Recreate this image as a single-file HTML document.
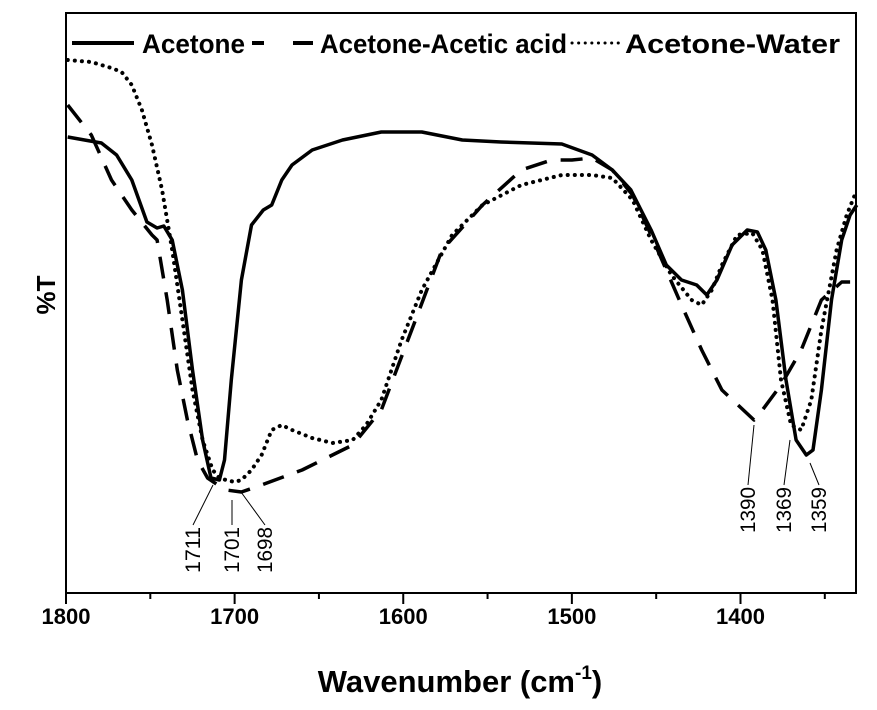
<!DOCTYPE html>
<html><head><meta charset="utf-8"><style>
body{margin:0;background:#fff}
svg text{font-family:"Liberation Sans",Arial,sans-serif}
</style></head><body>
<svg id="chart" width="877" height="705" viewBox="0 0 877 705" xmlns="http://www.w3.org/2000/svg"></svg>
<script>
const acetoneW=[1799,1779,1770,1761,1752,1746,1742,1737,1731,1725,1719,1714,1709,1706,1702,1696,1690,1683,1678,1672,1666,1654,1636,1613,1589,1565,1542,1506,1488,1476,1465,1453,1444,1435,1426,1420,1414,1405,1396,1390,1385,1379,1373,1367,1361,1357,1352,1346,1340,1335,1331];
const acetoneT=[456,450,438,413,371,365,367,353,303,223,153,115,113,133,213,313,368,383,388,413,428,443,453,461,461,453,451,449,438,423,403,363,328,313,308,298,313,348,363,361,343,293,213,153,138,143,203,293,353,378,388];
const aceticW=[1799,1785,1773,1761,1749,1746,1740,1734,1728,1722,1716,1710,1705,1696,1684,1660,1630,1613,1595,1577,1553,1530,1512,1500,1488,1476,1464,1453,1435,1423,1411,1392,1387,1376,1364,1352,1340,1335];
const aceticT=[488,458,413,383,358,353,293,223,173,133,115,108,103,101,108,123,148,183,263,343,388,423,433,433,435,423,398,358,288,243,203,173,183,208,243,293,311,311];
const waterW=[1799,1785,1773,1767,1761,1755,1749,1743,1737,1731,1725,1719,1713,1709,1705,1700,1696,1690,1684,1678,1672,1666,1654,1642,1630,1622,1613,1601,1589,1571,1553,1530,1506,1488,1476,1464,1453,1441,1429,1423,1417,1411,1402,1393,1387,1381,1376,1370,1364,1358,1352,1343,1337,1331];
const waterT=[533,531,525,521,508,483,448,403,343,273,203,153,123,115,113,111,113,123,138,163,168,163,155,150,153,168,193,253,303,358,388,408,418,418,415,393,353,318,293,288,303,328,358,360,343,293,213,168,163,193,263,343,378,403];
const xTicks=[1800,1700,1600,1500,1400];
const xMinor=[1750,1650,1550,1450,1350];
const peakLabels=["1711","1701","1698","1390","1369","1359"];
const peakW=[1711,1701,1698,1390,1369,1359];

const svg=document.getElementById('chart');
const NS='http://www.w3.org/2000/svg';
const L=66,R=856,T=13,B=593;
const x=w=>L+(1800-w)*(R-L)/(1800-1331.5);
const y=v=>B-v;
function mk(tag,attrs,parent){const e=document.createElementNS(NS,tag);for(const k in attrs)e.setAttribute(k,attrs[k]);(parent||svg).appendChild(e);return e;}

const fr=mk('rect',{x:L,y:T,width:R-L,height:B-T,fill:'none',stroke:'#000','stroke-width':2});



xTicks.forEach(t=>{
  const l=mk('line',{x1:x(t),x2:x(t),y1:B,y2:B+11,stroke:'#000','stroke-width':2});
  
  
  const tx=mk('text',{x:x(t),y:B+31,'text-anchor':'middle','font-size':22,'font-weight':'bold'});
  tx.textContent=t;
  
  
});
xMinor.forEach(t=>{
  const l=mk('line',{x1:x(t),x2:x(t),y1:B,y2:B+6,stroke:'#000','stroke-width':2});
  
  
});

function series(W,V,dash,name,width,round){
  const d=W.map((w,i)=>(i?'L':'M')+x(w).toFixed(1)+','+y(V[i]).toFixed(1)).join('');
  const p=mk('path',{d:d,fill:'none',stroke:'#000','stroke-width':width,'stroke-dasharray':dash,'stroke-linecap':round?'round':'butt','stroke-linejoin':'round'});
  
  
}
series(acetoneW,acetoneT,'none','acetone-line',3.5,false);
series(aceticW,aceticT,'22 14','acetone-acetic-acid-line',3.5,false);
series(waterW,waterT,'0.1 7','acetone-water-line',4,true);

const lineStart=[[213,485],[232,500],[241,492],[754,425],[790,440],[810,463]];
const lineEnd=[[193,525],[232,525],[265,525],[748,485],[784,485],[819,485]];
peakLabels.forEach((lab,i)=>{
  const ln=mk('line',{x1:lineStart[i][0],y1:lineStart[i][1],x2:lineEnd[i][0],y2:lineEnd[i][1],stroke:'#000','stroke-width':1});
  
  
  const cx=lineEnd[i][0]+7;
  const t=mk('text',{x:0,y:0,'font-size':21,transform:`translate(${cx},${lineEnd[i][1]+2}) rotate(-90)`,'text-anchor':'end',textLength:46,lengthAdjust:'spacingAndGlyphs'});
  t.textContent=lab;
  
  
});

const lg=mk('g',{});


const segs=[[72,134,'none',4,false],[252,264,'none',4,false],[293,313,'none',4,false],[572,620,'0.1 6.5',3,true]];
segs.forEach(s=>{
  const l=mk('line',{x1:s[0],x2:s[1],y1:43,y2:43,stroke:'#000','stroke-width':s[3],'stroke-dasharray':s[2],'stroke-linecap':s[4]?'round':'butt'},lg);
  
  
});
const texts=[[142,103,'Acetone'],[320,247,'Acetone-Acetic acid'],[625,215,'Acetone-Water']];
texts.forEach(it=>{
  const t=mk('text',{x:it[0],y:53,'font-size':27,'font-weight':'bold',textLength:it[1],lengthAdjust:'spacingAndGlyphs'},lg);
  t.textContent=it[2];
  
  
});

const xt=mk('text',{x:460,y:692,'text-anchor':'middle','font-size':31,'font-weight':'bold'});
xt.innerHTML='Wavenumber (cm<tspan dy="-13" font-size="19">-1</tspan><tspan dy="13">)</tspan>';


const yt=mk('text',{x:0,y:0,'text-anchor':'middle','font-size':26,'font-weight':'bold',transform:'translate(55,295) rotate(-90)'});
yt.textContent='%T';


</script>
</body></html>
